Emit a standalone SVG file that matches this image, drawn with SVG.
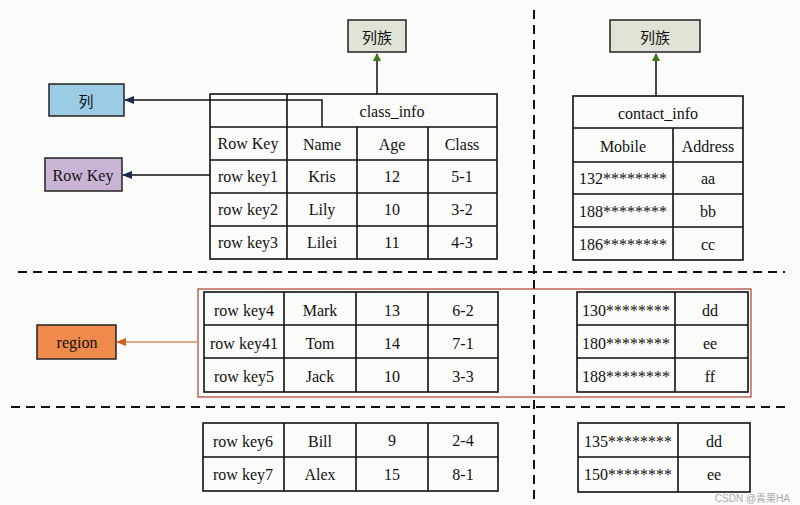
<svg xmlns="http://www.w3.org/2000/svg" width="800" height="505" viewBox="0 0 800 505">
<defs>
<style>
.t{font-family:"Liberation Serif","Noto Sans CJK SC",serif;font-size:16px;fill:#111;text-anchor:middle;dominant-baseline:central}
.cj{font-family:"Noto Sans CJK SC",sans-serif;font-size:15px;fill:#111;text-anchor:middle;dominant-baseline:central}
.g{fill:none;stroke:#111;stroke-width:1.6}
.d{fill:none;stroke:#111;stroke-width:2;stroke-dasharray:9,6}
.c{fill:none;stroke:#111;stroke-width:1.5}
</style>
<marker id="ab" markerWidth="10" markerHeight="8" refX="9" refY="4" orient="auto" markerUnits="userSpaceOnUse"><path d="M0,0L10,4L0,8z" fill="#1a2a4a"/></marker>
<marker id="ag" markerWidth="8" markerHeight="10" refX="7" refY="4" orient="auto" markerUnits="userSpaceOnUse"><path d="M0,0L8,4L0,8z" fill="#3a7a1a"/></marker>
<marker id="ar" markerWidth="10" markerHeight="8" refX="9" refY="4" orient="auto" markerUnits="userSpaceOnUse"><path d="M0,0L10,4L0,8z" fill="#d06020"/></marker>
</defs>
<rect width="800" height="505" fill="#fbfbfa"/>
<g id="dividers">
<line class="d" x1="534" y1="10" x2="534" y2="505"/>
<line class="d" x1="18" y1="272" x2="785" y2="272"/>
<line class="d" x1="11" y1="407" x2="788" y2="407"/>
</g>
<g id="cf1"><rect x="348" y="20" width="58" height="32" fill="#dfe3d6" stroke="#222" stroke-width="1.5"/><text class="cj" x="377" y="36">列族</text></g>
<g id="cf2"><rect x="610" y="20" width="90" height="32" fill="#dfe3d6" stroke="#222" stroke-width="1.5"/><text class="cj" x="655" y="36">列族</text></g>
<g id="col"><rect x="49" y="84" width="75" height="32" fill="#9ccbe6" stroke="#222" stroke-width="1.5"/><text class="cj" x="86" y="100">列</text></g>
<g id="rowkey"><rect x="45" y="158" width="77" height="33" fill="#c9b4d6" stroke="#222" stroke-width="1.5"/><text class="t" x="83" y="175">Row Key</text></g>
<g id="region"><rect x="37" y="325" width="79" height="34" fill="#f08a4a" stroke="#222" stroke-width="1.5"/><text class="t" x="77" y="342">region</text></g>
<g id="connectors">
<line class="c" x1="377" y1="94" x2="377" y2="54" stroke="#2a4a1a" marker-end="url(#ag)"/>
<line class="c" x1="656" y1="96" x2="656" y2="54" stroke="#2a4a1a" marker-end="url(#ag)"/>
<polyline class="c" points="322,127 322,100 125,100" marker-end="url(#ab)"/>
<line class="c" x1="210" y1="175" x2="123" y2="175" marker-end="url(#ab)"/>
<line x1="197" y1="342" x2="117" y2="342" stroke="#c05020" stroke-width="1" marker-end="url(#ar)"/>
<rect x="198" y="289" width="553" height="108" fill="none" stroke="#b04030" stroke-width="1.2"/>
</g>
<g id="class_info">
<rect class="g" x="210" y="94" width="287" height="165"/>
<path class="g" d="M287,94V259M357,127V259M428,127V259M210,127H497M210,160H497M210,193H497M210,226H497"/>
<text class="t" x="392" y="111">class_info</text>
<text class="t" x="248" y="143">Row Key</text><text class="t" x="322" y="144">Name</text><text class="t" x="392" y="144">Age</text><text class="t" x="462" y="144">Class</text>
<text class="t" x="248" y="176">row key1</text><text class="t" x="322" y="176">Kris</text><text class="t" x="392" y="176">12</text><text class="t" x="462" y="176">5-1</text>
<text class="t" x="248" y="209">row key2</text><text class="t" x="322" y="209">Lily</text><text class="t" x="392" y="209">10</text><text class="t" x="462" y="209">3-2</text>
<text class="t" x="248" y="242">row key3</text><text class="t" x="322" y="242">Lilei</text><text class="t" x="392" y="242">11</text><text class="t" x="462" y="242">4-3</text>
</g>
<g id="contact_info">
<rect class="g" x="573" y="96" width="170" height="164"/>
<path class="g" d="M673,128V260M573,128H743M573,162H743M573,194H743M573,227H743"/>
<text class="t" x="658" y="113">contact_info</text>
<text class="t" x="623" y="146">Mobile</text><text class="t" x="708" y="146">Address</text>
<text class="t" x="623" y="178">132********</text><text class="t" x="708" y="178">aa</text>
<text class="t" x="623" y="211">188********</text><text class="t" x="708" y="211">bb</text>
<text class="t" x="623" y="244">186********</text><text class="t" x="708" y="244">cc</text>
</g>
<g id="region_left">
<rect class="g" x="204" y="292" width="294" height="100"/>
<path class="g" d="M284,292V392M356,292V392M428,292V392M204,325H498M204,358H498"/>
<text class="t" x="244" y="310">row key4</text><text class="t" x="320" y="310">Mark</text><text class="t" x="392" y="310">13</text><text class="t" x="463" y="310">6-2</text>
<text class="t" x="244" y="343">row key41</text><text class="t" x="320" y="343">Tom</text><text class="t" x="392" y="343">14</text><text class="t" x="463" y="343">7-1</text>
<text class="t" x="244" y="376">row key5</text><text class="t" x="320" y="376">Jack</text><text class="t" x="392" y="376">10</text><text class="t" x="463" y="376">3-3</text>
</g>
<g id="region_right">
<rect class="g" x="577" y="292" width="171" height="100"/>
<path class="g" d="M675,292V392M577,325H748M577,358H748"/>
<text class="t" x="626" y="310">130********</text><text class="t" x="710" y="310">dd</text>
<text class="t" x="626" y="343">180********</text><text class="t" x="710" y="343">ee</text>
<text class="t" x="626" y="376">188********</text><text class="t" x="710" y="376">ff</text>
</g>
<g id="bottom_left">
<rect class="g" x="203" y="423" width="295" height="68"/>
<path class="g" d="M284,423V491M356,423V491M428,423V491M203,457H498"/>
<text class="t" x="243" y="441">row key6</text><text class="t" x="320" y="441">Bill</text><text class="t" x="392" y="440">9</text><text class="t" x="463" y="440">2-4</text>
<text class="t" x="243" y="474">row key7</text><text class="t" x="320" y="474">Alex</text><text class="t" x="392" y="474">15</text><text class="t" x="463" y="474">8-1</text>
</g>
<g id="bottom_right">
<rect class="g" x="578" y="423" width="172" height="69"/>
<path class="g" d="M678,423V492M578,457H750"/>
<text class="t" x="628" y="441">135********</text><text class="t" x="714" y="441">dd</text>
<text class="t" x="628" y="474">150********</text><text class="t" x="714" y="474">ee</text>
</g>
<text x="790" y="502" font-family="'Liberation Sans','Noto Sans CJK SC',sans-serif" font-size="10" fill="#aaa" text-anchor="end">CSDN @青果HA</text>
</svg>
